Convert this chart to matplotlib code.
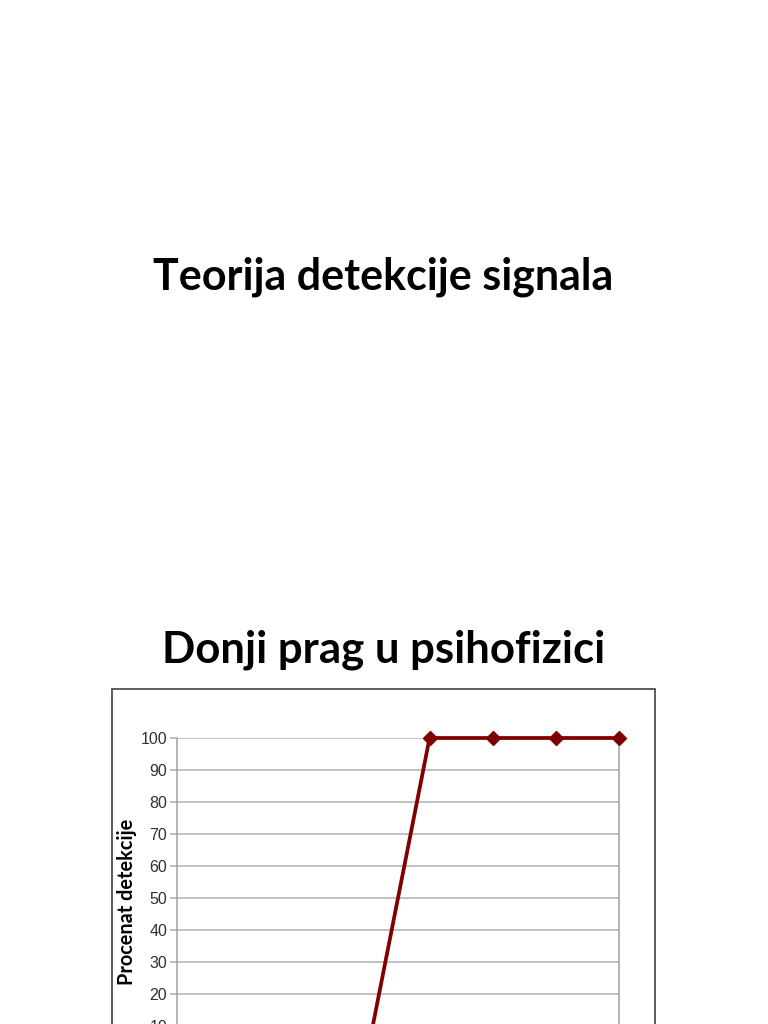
import matplotlib.pyplot as plt
from matplotlib.patches import Rectangle

# stimulus steps and detection percentage
stimulus = [0, 1, 2, 3, 4, 5, 6, 7]
detection = [0, 0, 0, 0, 100, 100, 100, 100]
y_ticks = [0, 10, 20, 30, 40, 50, 60, 70, 80, 90, 100]

title_top = "Teorija detekcije signala"
title_chart = "Donji prag u psihofizici"
y_label = "Procenat detekcije"

W, H = 768, 1024
fig = plt.figure(figsize=(W / 100, H / 100), dpi=100)
fig.patch.set_facecolor("white")

# slide titles
fig.text(383 / W, 1 - 277 / H, title_top, ha="center", va="center",
         fontsize=31, fontweight="bold", family="Lato", color="black")
fig.text(384 / W, 1 - 650 / H, title_chart, ha="center", va="center",
         fontsize=31.5, fontweight="bold", family="Lato", color="black")

# chart frame, running off the bottom of the page
frame = Rectangle((112 / W, 1 - 1100 / H), (655 - 112) / W, (1100 - 689) / H,
                  transform=fig.transFigure, fill=False,
                  edgecolor="#404040", linewidth=1.2)
fig.patches.append(frame)

left, right = 177, 619
top, bottom = 738, 1058
ax = fig.add_axes([left / W, 1 - bottom / H, (right - left) / W, (bottom - top) / H])
ax.set_xlim(0, 7)
ax.set_ylim(0, 100)
ax.set_yticks(y_ticks)
ax.set_xticks([])
ax.grid(axis="y", color="#b5b5b5", linewidth=1.2)
ax.set_axisbelow(True)
for side in ["top", "bottom"]:
    ax.spines[side].set_visible(False)
for side in ["left", "right"]:
    ax.spines[side].set_color("#a8a8a8")
    ax.spines[side].set_linewidth(1.2)
ax.tick_params(axis="y", length=5, width=1.2, color="#b5b5b5", pad=2,
               labelsize=11.5, labelcolor="#303030")
for lab in ax.get_yticklabels():
    lab.set_family("Liberation Sans")

ax.plot(stimulus, detection, color="#800000", linewidth=2.7,
        marker="D", markersize=7.5, clip_on=False, zorder=3)

fig.text(127 / W, 1 - 902 / H, y_label, rotation=90, ha="center", va="center",
         fontsize=14.3, fontweight="bold", family="Lato", color="black")

fig.savefig("out.png", dpi=100)
